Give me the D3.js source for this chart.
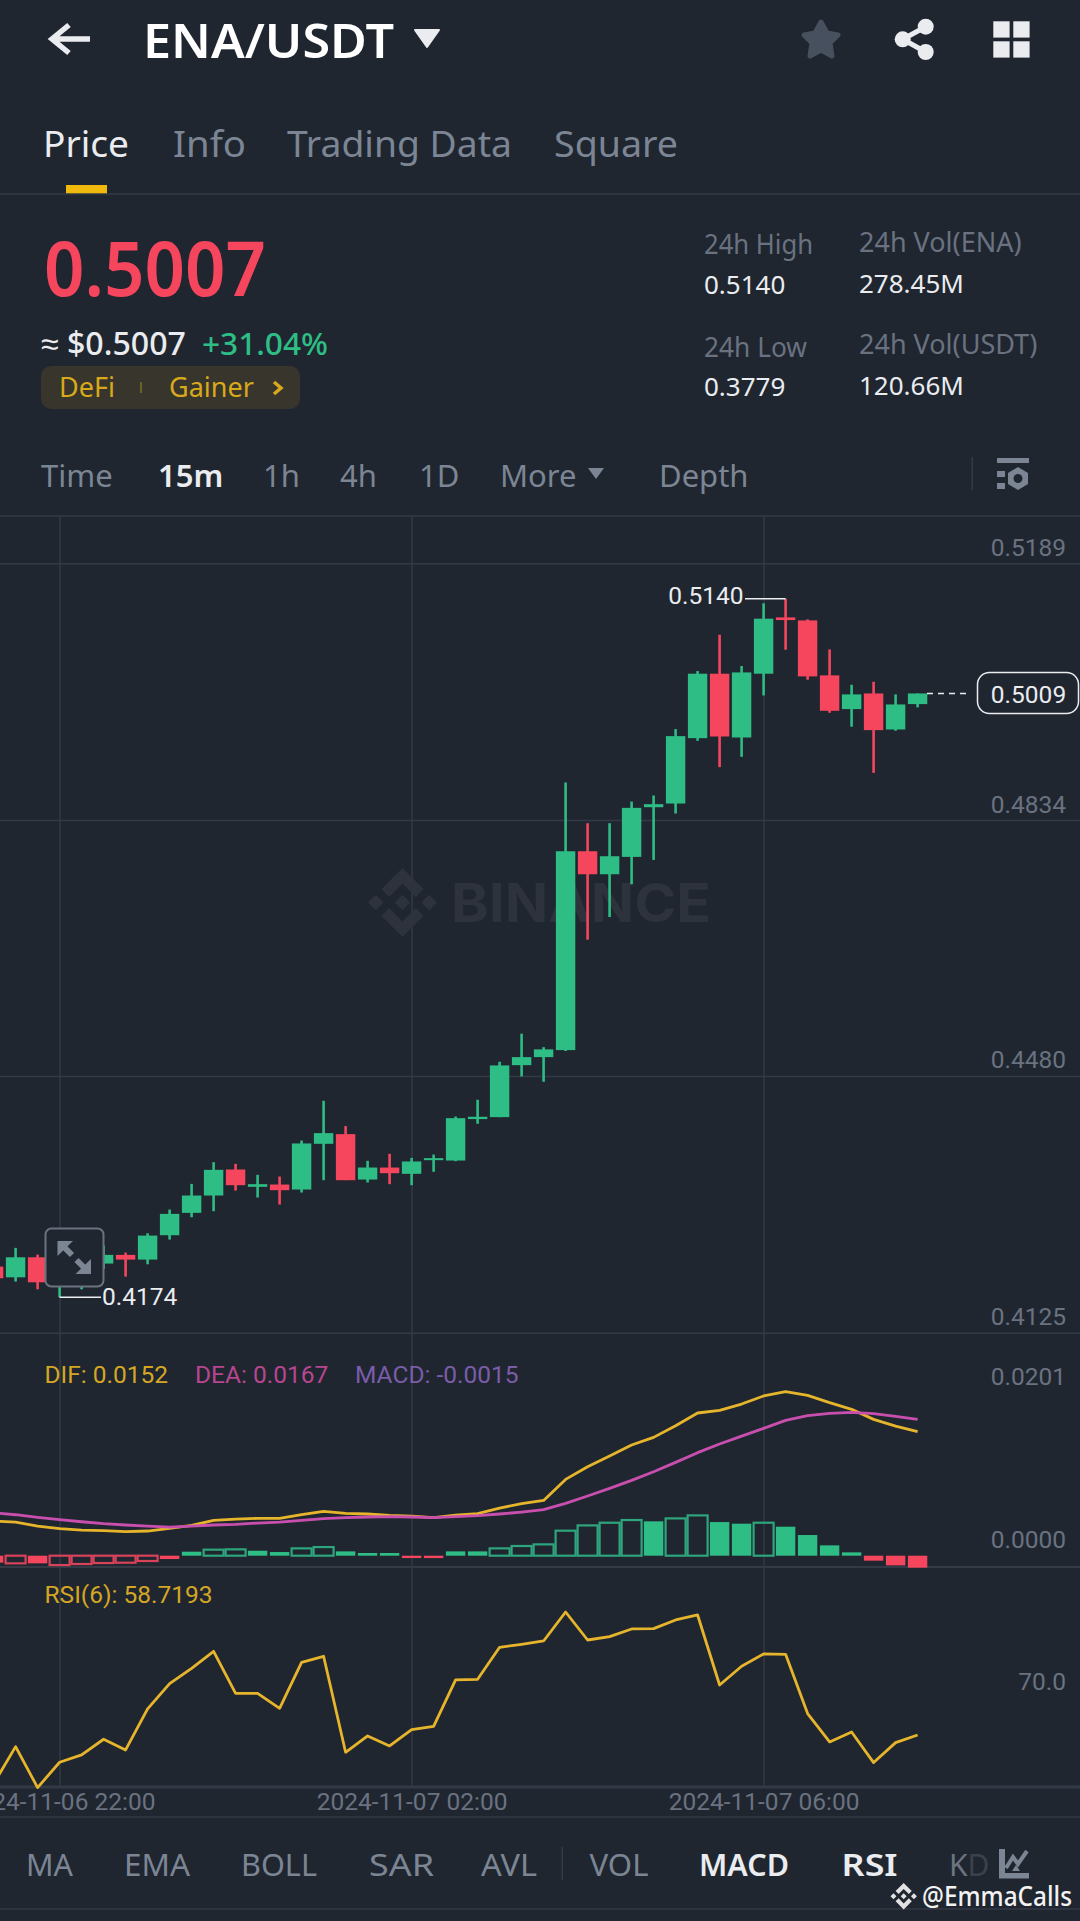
<!DOCTYPE html>
<html>
<head>
<meta charset="utf-8">
<script src="https://cdn.jsdelivr.net/npm/d3@7"></script>
<style>
    html, body { margin: 0; padding: 0; background: #1f2630; }
    svg { display: block; }
</style>
</head>
<body>
<div id="chart"></div>
<script>
// candles, 15 minute steps, 21:15 to 07:45
const opens = [.42164,.42016,.42293,.41947,.42155,.42206,.42326,.42261,.42598,.42907,.43147,.43507,.43267,.43299,.4323,.43862,.43996,.43368,.43534,.43447,.43636,.43631,.44204,.44231,.4495,.45061,.45158,.47908,.4759,.4783,.48517,.48568,.49472,.50363,.49481,.50363,.51142,.511,.5034,.49874,.5009,.49592,.49943];
const highs = [.42201,.42423,.4233,.42201,.42316,.42455,.42358,.42625,.42953,.43308,.43608,.43585,.43433,.4341,.43908,.44457,.44107,.43627,.43724,.43668,.43714,.4424,.44471,.44997,.45385,.45199,.48858,.48296,.48296,.48595,.48679,.49597,.504,.50902,.50469,.51336,.5140,.51115,.50699,.5021,.50252,.50077,.5009];
const lows = [.41961,.41957,.4185,.4174,.4185,.42132,.42026,.42196,.42538,.42847,.4293,.43216,.43119,.43022,.43188,.43359,.43359,.43327,.43304,.4329,.43475,.43622,.44139,.44231,.44794,.4472,.45144,.46685,.46999,.47451,.47788,.4843,.49435,.49071,.49214,.50063,.50695,.5028,.49823,.4963,.48992,.49574,.49897];
const closes = [.42003,.42293,.41947,.42155,.42256,.42326,.42261,.42593,.42893,.43147,.43502,.4329,.43304,.43221,.43867,.4401,.43359,.43534,.43456,.43618,.43664,.44217,.44236,.44946,.45061,.45168,.47908,.4759,.47839,.48508,.48559,.495,.50363,.49495,.50381,.51124,.51105,.50326,.4985,.50077,.49583,.49938,.5009];

const difValues = [.00426,.00413,.00364,.00332,.00315,.00307,.00295,.00303,.00336,.00372,.00434,.0045,.00458,.00458,.00503,.00544,.0052,.00512,.00495,.00487,.00467,.00499,.00516,.00585,.00639,.00679,.00937,.01093,.01224,.01359,.01453,.01596,.01752,.01785,.01862,.01961,.02014,.01969,.01879,.01797,.01674,.01592,.01523];
const deaValues = [.00528,.00503,.00471,.00442,.00417,.00393,.00377,.00364,.00352,.00364,.00377,.00385,.00401,.00413,.00434,.00454,.00467,.00475,.00479,.00475,.00467,.00479,.00491,.00512,.00536,.00565,.00643,.00733,.00827,.00925,.01031,.01146,.01265,.01371,.01469,.01563,.01662,.01719,.01748,.0176,.01744,.01711,.01674];
const macdValues = [-.00085,-.00094,-.00094,-.00115,-.00102,-.0009,-.00086,-.00065,-.00041,.00049,.00074,.00078,.00061,.00045,.0009,.00106,.00053,.00033,.00033,-.00029,-.00029,.00053,.00053,.0009,.00119,.00139,.00307,.00372,.00405,.00438,.00422,.00458,.00495,.00413,.00393,.00405,.00356,.00254,.00127,.00041,-.00061,-.00119,-.00147];
const macdHollow = [0,1,0,1,1,1,1,1,0,0,1,1,0,0,1,1,0,0,0,0,0,0,0,1,1,1,1,1,1,1,0,1,1,0,0,1,0,0,0,0,0,0,0];
const rsiValues = [43.93,55.21,42.82,50.48,52.69,57.43,54.2,66.59,74.24,78.87,84.01,71.32,71.32,66.79,80.69,82.5,53.5,58.43,55.41,60.35,61.35,75.35,75.55,85.22,86.13,87.13,95.89,87.43,88.44,90.76,90.86,93.48,94.99,73.84,79.48,83.21,83.11,65.18,56.62,59.64,50.38,56.42,58.72];

const priceTicks = [0.5189, 0.4834, 0.4480, 0.4125];
const macdTicks = [0.0201, 0];
const rsiTicks = [70];
const timeTickIndex = [3, 19, 35];
const timeTickLabels = ["2024-11-06 22:00", "2024-11-07 02:00", "2024-11-07 06:00"];

const topTabs = ["Price", "Info", "Trading Data", "Square"];
const intervals = ["Time", "15m", "1h", "4h", "1D", "More", "Depth"];
const indicators = ["MA", "EMA", "BOLL", "SAR", "AVL", "VOL", "MACD", "RSI"];

const bg = "#1f2630", grid = "#333a46", green = "#2ebd85", red = "#f6465d";
const white = "#eaecef", grey = "#7c8594", dimGrey = "#6a7280", yellow = "#f0b90b";
const uiFont = "'Noto Sans', sans-serif", numFont = "Roboto, sans-serif";
const binancePath = "M16.624 13.9202l2.7175 2.7154-7.353 7.353-7.353-7.352 2.7175-2.7164 4.6355 4.6595 4.6356-4.6595zm4.6366-4.6366L24 12l-2.7154 2.7164L18.5682 12l2.6924-2.7164zm-9.272.001l2.7163 2.6914-2.7164 2.7174v-.001L9.2721 12l2.7164-2.7154zm-9.2722-.001L5.4088 12l-2.6914 2.6924L0 12l2.7164-2.7164zM11.9885.0115l7.353 7.329-2.7174 2.7154-4.6356-4.6356-4.6355 4.6595-2.7174-2.7154 7.353-7.353z";

const svg = d3.select("#chart").append("svg").attr("width", 1080).attr("height", 1921);
svg.append("rect").attr("width", 1080).attr("height", 1921).attr("fill", bg);

function label(text, x, y, size, fill, weight, font, anchor) {
    return svg.append("text").attr("x", x).attr("y", y).attr("font-size", size)
        .attr("fill", fill).attr("font-weight", weight || 400)
        .attr("font-family", font || uiFont).attr("text-anchor", anchor || "start").text(text);
}
function fit(sel, width) {
    return sel.attr("textLength", width).attr("lengthAdjust", "spacingAndGlyphs");
}
function hline(y, width) {
    svg.append("line").attr("x1", 0).attr("x2", 1080).attr("y1", y).attr("y2", y)
        .attr("stroke", grid).attr("stroke-width", width || 1.5);
}

// scales
const x = d3.scaleLinear().domain([0, opens.length - 1]).range([-6.4, 917.6]);
const yPrice = d3.scaleLinear().domain([0.5189, 0.4125]).range([563.3, 1332.7]);
const yMacd = d3.scaleLinear().domain([0, 0.0201]).range([1555.7, 1392]);
const yRsi = d3.scaleLinear().domain([100, 43]).range([1598.4, 1787]);

// header
svg.append("path").attr("d", "M90 39H54M69 25L52 39L69 53").attr("fill", "none").attr("stroke", white).attr("stroke-width", 5.5);
fit(label("ENA/USDT", 143, 58, 47, "#fff", 600), 251);
svg.append("path").attr("d", "M415 30H439L427 47Z").attr("fill", white).attr("stroke", white).attr("stroke-linejoin", "round").attr("stroke-width", 2);
svg.append("path").attr("d", "M821 22L827 33L838 35L830 43L832 56L821 50L810 56L812 43L804 35L815 33Z")
    .attr("fill", "#47505e").attr("stroke", "#47505e").attr("stroke-width", 5).attr("stroke-linejoin", "round");
svg.append("path").attr("d", "M925.7 26.7L902.7 39.3L925.7 52").attr("fill", "none").attr("stroke", white).attr("stroke-width", 5);
[[925.7, 26.7], [902.7, 39.3], [925.7, 52]].forEach(function (c) {
    svg.append("circle").attr("cx", c[0]).attr("cy", c[1]).attr("r", 8).attr("fill", white);
});
[[993.3, 21.3], [1013.3, 21.3], [993.3, 41.3], [1013.3, 41.3]].forEach(function (c) {
    svg.append("rect").attr("x", c[0]).attr("y", c[1]).attr("width", 16.3).attr("height", 16.3).attr("fill", white);
});

const tabX = [43, 173, 287, 554];
const tabWidth = [86, 73, 225, 124];
topTabs.forEach(function (t, i) {
    fit(label(t, tabX[i], 157, 37, i === 0 ? white : grey), tabWidth[i]);
});
svg.append("rect").attr("x", 66).attr("y", 185).attr("width", 41).attr("height", 9).attr("fill", yellow);
hline(194);

// price block
fit(label("0.5007", 44, 296, 76, red, 600), 222);
fit(label("≈ $0.5007", 41, 355, 32, white, 500), 145);
fit(label("+31.04%", 202, 355, 31, green, 500), 126);
svg.append("rect").attr("x", 41).attr("y", 366).attr("width", 259).attr("height", 43).attr("rx", 10).attr("fill", "#38362c");
label("DeFi", 59, 397, 27, "#d9a91b");
svg.append("rect").attr("x", 140).attr("y", 382).attr("width", 2).attr("height", 11).attr("fill", "#6b5f2a");
label("Gainer", 169, 397, 27, "#d9a91b");
svg.append("path").attr("d", "M274 382L281 388L274 394").attr("fill", "none").attr("stroke", "#d9a91b").attr("stroke-width", 3.5);

fit(label("24h High", 704, 254, 27, dimGrey), 109);
label("0.5140", 704, 294, 26, white);
label("24h Vol(ENA)", 859, 252, 27, dimGrey);
label("278.45M", 859, 293, 26, white);
fit(label("24h Low", 704, 357, 27, dimGrey), 103);
label("0.3779", 704, 396, 26, white);
label("24h Vol(USDT)", 859, 354, 27, dimGrey);
label("120.66M", 859, 395, 26, white);

// interval row
const intervalX = [41, 158, 263, 340, 419, 500, 659];
intervals.forEach(function (t, i) {
    label(t, intervalX[i], 487, 31, i === 1 ? white : grey, i === 1 ? 600 : 400);
});
svg.append("path").attr("d", "M588 468H604L596 479Z").attr("fill", grey);
svg.append("rect").attr("x", 971.5).attr("y", 457).attr("width", 1.5).attr("height", 33).attr("fill", grid);
svg.append("rect").attr("x", 997).attr("y", 458).attr("width", 32).attr("height", 5).attr("fill", grey);
svg.append("rect").attr("x", 997).attr("y", 471).attr("width", 8).attr("height", 6).attr("fill", grey);
svg.append("rect").attr("x", 997).attr("y", 483).attr("width", 8).attr("height", 6).attr("fill", grey);
svg.append("path").attr("d", "M1018 467L1028 473V484L1018 490L1008 484V473Z M1018 474A4.5 4.5 0 1 0 1018 483A4.5 4.5 0 1 0 1018 474Z")
    .attr("fill", grey).attr("fill-rule", "evenodd");
hline(516);

// grid and axes
function styleAxis(g, dy) {
    g.select(".domain").remove();
    g.selectAll("line").attr("stroke", grid).attr("stroke-width", 1.5);
    g.selectAll("text").attr("dy", dy).attr("fill", dimGrey).style("font-family", numFont).style("font-size", "24.5px");
}
svg.append("g").attr("transform", "translate(0,1787)")
    .call(d3.axisBottom(x).tickValues(timeTickIndex).tickSize(-1271).tickPadding(0)
        .tickFormat(function (d, i) { return timeTickLabels[i]; }))
    .call(function (g) { styleAxis(g, 0); g.selectAll("text").attr("y", 23); });
svg.append("g")
    .call(d3.axisLeft(yPrice).tickValues(priceTicks).tickSize(-1080).tickFormat(""))
    .call(function (g) { styleAxis(g, 0); });
svg.append("g").attr("transform", "translate(1066,0)")
    .call(d3.axisLeft(yPrice).tickValues(priceTicks).tickSize(0).tickPadding(0).tickFormat(d3.format(".4f")))
    .call(function (g) { styleAxis(g, -8); });
svg.append("g").attr("transform", "translate(1066,0)")
    .call(d3.axisLeft(yMacd).tickValues(macdTicks).tickSize(0).tickPadding(0).tickFormat(d3.format(".4f")))
    .call(function (g) { styleAxis(g, -8); });
svg.append("g").attr("transform", "translate(1066,0)")
    .call(d3.axisLeft(yRsi).tickValues(rsiTicks).tickSize(0).tickPadding(0).tickFormat(d3.format(".1f")))
    .call(function (g) { styleAxis(g, -8); });
hline(1567, 2);
hline(1787, 3);
hline(1817);
hline(1909);

// watermark
svg.append("path").attr("d", binancePath).attr("fill", "#2d323d").attr("transform", "translate(368,868) scale(2.875)");
fit(label("BINANCE", 451, 922, 54, "#2d323d", 700, "Inter, sans-serif"), 260);

// candles
const candles = svg.append("g").selectAll("g").data(d3.range(opens.length)).enter().append("g");
function candleColour(i) { return closes[i] >= opens[i] ? green : red; }
candles.append("line")
    .attr("x1", function (i) { return x(i); }).attr("x2", function (i) { return x(i); })
    .attr("y1", function (i) { return yPrice(highs[i]); }).attr("y2", function (i) { return yPrice(lows[i]); })
    .attr("stroke", candleColour).attr("stroke-width", 2.6);
candles.append("rect")
    .attr("x", function (i) { return x(i) - 9.7; }).attr("width", 19.4)
    .attr("y", function (i) { return yPrice(Math.max(opens[i], closes[i])); })
    .attr("height", function (i) { return Math.abs(yPrice(opens[i]) - yPrice(closes[i])); })
    .attr("fill", candleColour);

// macd bars
svg.append("g").selectAll("rect").data(d3.range(macdValues.length)).enter().append("rect")
    .attr("x", function (i) { return macdHollow[i] ? x(i) - 10 : x(i) - 9.7; })
    .attr("width", function (i) { return macdHollow[i] ? 20 : 19.4; })
    .attr("y", function (i) { return Math.min(yMacd(macdValues[i]), yMacd(0)); })
    .attr("height", function (i) { return Math.abs(yMacd(macdValues[i]) - yMacd(0)); })
    .attr("fill", function (i) {
        if (macdHollow[i]) return "none";
        return macdValues[i] >= 0 ? green : red;
    })
    .attr("stroke", function (i) {
        if (!macdHollow[i]) return "none";
        return macdValues[i] >= 0 ? "#2ea57c" : "#d9435a";
    })
    .attr("stroke-width", 2.2);

// indicator lines
function drawLine(values, yScale, colour) {
    const line = d3.line().x(function (d, i) { return x(i); }).y(function (d) { return yScale(d); });
    svg.append("path").datum(values).attr("d", line).attr("fill", "none")
        .attr("stroke", colour).attr("stroke-width", 2.8).attr("stroke-linejoin", "round");
}
drawLine(difValues, yMacd, "#e6b52c");
drawLine(deaValues, yMacd, "#c94fae");
drawLine(rsiValues, yRsi, "#e6b52c");

label("DIF: 0.0152", 44.5, 1383, 24.5, "#d4a624", 400, numFont);
label("DEA: 0.0167", 195, 1383, 24.5, "#b8458f", 400, numFont);
label("MACD: -0.0015", 355, 1383, 24.5, "#7a5ca8", 400, numFont);
label("RSI(6): 58.7193", 44.5, 1603, 24.5, "#d4a624", 400, numFont);

// high, low and last price marks
const highIndex = highs.indexOf(d3.max(highs)), lowIndex = lows.indexOf(d3.min(lows));
svg.append("line").attr("x1", 745).attr("x2", x(highIndex)).attr("y1", yPrice(highs[highIndex])).attr("y2", yPrice(highs[highIndex]))
    .attr("stroke", white).attr("stroke-width", 1.5);
label("0.5140", 743.5, 604, 24.5, white, 400, numFont, "end");
svg.append("line").attr("x1", x(lowIndex)).attr("x2", 101).attr("y1", yPrice(lows[lowIndex])).attr("y2", yPrice(lows[lowIndex]))
    .attr("stroke", white).attr("stroke-width", 1.5);
label("0.4174", 102, 1305, 24.5, white, 400, numFont);

const lastClose = closes[closes.length - 1];
svg.append("line").attr("x1", 927).attr("x2", 966).attr("y1", yPrice(lastClose)).attr("y2", yPrice(lastClose))
    .attr("stroke", white).attr("stroke-width", 1.5).attr("stroke-dasharray", "6,5");
svg.append("rect").attr("x", 977.5).attr("y", 672.5).attr("width", 101).attr("height", 41).attr("rx", 12)
    .attr("fill", bg).attr("stroke", white).attr("stroke-width", 1.5);
label(d3.format(".4f")(lastClose), 1028.5, 703, 24.5, white, 400, numFont, "middle");

// expand button
svg.append("rect").attr("x", 45.5).attr("y", 1228.5).attr("width", 58).attr("height", 58).attr("rx", 6)
    .attr("fill", bg).attr("stroke", dimGrey).attr("stroke-width", 2);
svg.append("path").attr("d", "M57.5 1241H73L57.5 1256Z M91 1274H75.5L91 1259Z").attr("fill", grey);
svg.append("path").attr("d", "M63 1246L72 1255M76.5 1260L85.5 1269").attr("stroke", grey).attr("stroke-width", 6);

// indicator tabs
const indicatorX = [26, 124, 241, 369, 481, 589.5, 699, 841.6];
const indicatorWidth = [47, 66, 76, 65, 56, 59, 90, 56];
indicators.forEach(function (t, i) {
    const active = t === "MACD" || t === "RSI";
    fit(label(t, indicatorX[i], 1876, 30, active ? white : grey, active ? 600 : 400), indicatorWidth[i]);
});
svg.append("rect").attr("x", 561.5).attr("y", 1847).attr("width", 1.5).attr("height", 33).attr("fill", grid);
const kd = label("", 949, 1876, 30, grey);
kd.append("tspan").attr("fill", "#6c7480").text("K");
kd.append("tspan").attr("fill", "#3b414c").text("D");
svg.append("path").attr("d", "M999 1849H1005V1873H1029V1878.5H999Z").attr("fill", grey);
svg.append("path").attr("d", "M1006 1868L1013 1857L1018 1864L1027 1851").attr("fill", "none").attr("stroke", grey).attr("stroke-width", 4);
svg.append("path").attr("d", "M1012 1871L1016 1865L1020 1871Z").attr("fill", grey);

// account stamp
svg.append("path").attr("d", binancePath).attr("fill", "#e2e2e2").attr("transform", "translate(890.5,1883) scale(1.1)");
fit(label("@EmmaCalls", 922, 1906, 27, "#f2f2f2", 500), 150);
</script>
</body>
</html>
